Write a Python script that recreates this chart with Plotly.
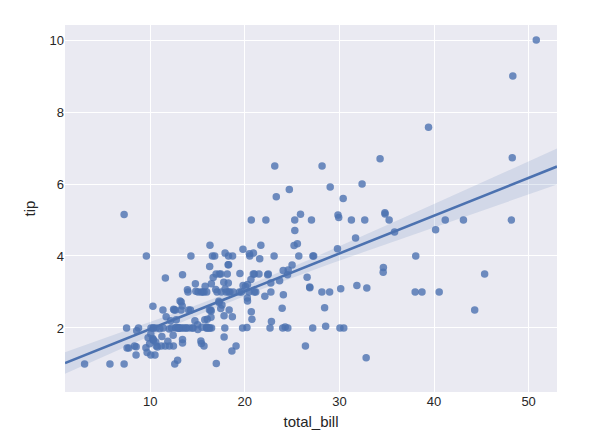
import numpy as np
import plotly.graph_objects as go

total_bill = [16.99,10.34,21.01,23.68,24.59,25.29,8.77,26.88,15.04,14.78,10.27,35.26,15.42,18.43,14.83,21.58,10.33,16.29,16.97,20.65,17.92,20.29,15.77,39.42,19.82,17.81,13.37,12.69,21.7,19.65,9.55,18.35,15.06,20.69,17.78,24.06,16.31,16.93,18.69,31.27,16.04,17.46,13.94,9.68,30.4,18.29,22.23,32.4,28.55,18.04,12.54,10.29,34.81,9.94,25.56,19.49,38.01,26.41,11.24,48.27,20.29,13.81,11.02,18.29,17.59,20.08,16.45,3.07,20.23,15.01,12.02,17.07,26.86,25.28,14.73,10.51,17.92,27.2,22.76,17.29,19.44,16.66,10.07,32.68,15.98,34.83,13.03,18.28,24.71,21.16,28.97,22.49,5.75,16.32,22.75,40.17,27.28,12.03,21.01,12.46,11.35,15.38,44.3,22.42,20.92,15.36,20.49,25.21,18.24,14.31,14.0,7.25,38.07,23.95,25.71,17.31,29.93,10.65,12.43,24.08,11.69,13.42,14.26,15.95,12.48,29.8,8.52,14.52,11.38,22.82,19.08,20.27,11.17,12.26,18.26,8.51,10.33,14.15,16.0,13.16,17.47,34.3,41.19,27.05,16.43,8.35,18.64,11.87,9.78,7.51,14.07,13.13,17.26,24.55,19.77,29.85,48.17,25.0,13.39,16.49,21.5,12.66,16.21,13.81,17.51,24.52,20.76,31.71,10.59,10.63,50.81,15.81,7.25,31.85,16.82,32.9,17.89,14.48,9.6,34.63,34.65,23.33,45.35,23.17,40.55,20.69,20.9,30.46,18.15,23.1,15.69,19.81,28.44,15.48,16.58,7.56,10.34,43.11,13.0,13.51,18.71,12.74,13.0,16.4,20.53,16.47,26.59,38.73,24.27,12.76,30.06,25.89,48.33,13.27,28.17,12.9,28.15,11.59,7.74,30.14,12.16,13.42,8.58,15.98,13.42,16.27,10.09,20.45,13.28,22.12,24.01,15.69,11.61,10.77,15.53,10.07,12.6,32.83,35.83,29.03,27.18,22.67,17.82,18.78]
tip = [1.01,1.66,3.5,3.31,3.61,4.71,2.0,3.12,1.96,3.23,1.71,5.0,1.57,3.0,3.02,3.92,1.67,3.71,3.5,3.35,4.08,2.75,2.23,7.58,3.18,2.34,2.0,2.0,4.3,3.0,1.45,2.5,3.0,2.45,3.27,3.6,2.0,3.07,2.31,5.0,2.24,2.54,3.06,1.32,5.6,3.0,5.0,6.0,2.05,3.0,2.5,2.6,5.2,1.56,4.34,3.51,3.0,1.5,1.76,6.73,3.21,2.0,1.98,3.76,2.64,3.15,2.47,1.0,2.01,2.09,1.97,3.0,3.14,5.0,2.2,1.25,3.08,4.0,3.0,2.71,3.0,3.4,1.83,5.0,2.03,5.17,2.0,4.0,5.85,3.0,3.0,3.5,1.0,4.3,3.25,4.73,4.0,1.5,3.0,1.5,2.5,3.0,2.5,3.48,4.08,1.64,4.06,4.29,3.76,4.0,3.0,1.0,4.0,2.55,4.0,3.5,5.07,1.5,1.8,2.92,2.31,1.68,2.5,2.0,2.52,4.2,1.48,2.0,2.0,2.18,1.5,2.83,1.5,2.0,3.25,1.25,2.0,2.0,2.0,2.75,3.5,6.7,5.0,5.0,2.3,1.5,1.36,1.63,1.73,2.0,2.5,2.0,2.74,2.0,2.0,5.14,5.0,3.75,2.61,2.0,3.5,2.5,2.0,2.0,3.0,3.48,2.24,4.5,1.61,2.0,10.0,3.16,5.15,3.18,4.0,3.11,2.0,2.0,4.0,3.55,3.68,5.65,3.5,6.5,3.0,5.0,3.5,2.0,3.5,4.0,1.5,4.19,2.56,2.02,4.0,1.44,2.0,5.0,2.0,2.0,4.0,2.01,2.0,2.5,4.0,3.23,3.41,3.0,2.03,2.23,2.0,5.16,9.0,2.5,6.5,1.1,3.0,1.5,1.44,3.09,2.2,3.48,1.92,3.0,1.58,2.5,2.0,3.0,2.72,2.88,2.0,3.0,3.39,1.47,3.0,1.25,1.0,1.17,4.67,5.92,2.0,2.0,1.75,3.0]
x_ticks = [10, 20, 30, 40, 50]
y_ticks = [2, 4, 6, 8, 10]

x = np.array(total_bill); y = np.array(tip)
n = len(x)
X = np.column_stack([np.ones(n), x])
beta, *_ = np.linalg.lstsq(X, y, rcond=None)
resid = y - X @ beta
s2 = resid @ resid / (n - 2)
XtXi = np.linalg.inv(X.T @ X)
xr = [1.0, 53.0]
xg = np.linspace(xr[0], xr[1], 100)
G = np.column_stack([np.ones_like(xg), xg])
yg = G @ beta
se = np.sqrt(s2 * np.einsum('ij,jk,ik->i', G, XtXi, G))
lo, hi = yg - 1.97 * se, yg + 1.97 * se

c = "#4C72B0"
fig = go.Figure()
fig.add_trace(go.Scatter(x=np.concatenate([xg, xg[::-1]]), y=np.concatenate([hi, lo[::-1]]),
                         fill="toself", fillcolor="rgba(76,114,176,0.15)", line=dict(width=0),
                         hoverinfo="skip", showlegend=False))
fig.add_trace(go.Scatter(x=total_bill, y=tip, mode="markers",
                         marker=dict(color=c, opacity=0.8, size=7.5, line=dict(width=0)), showlegend=False))
fig.add_trace(go.Scatter(x=xg, y=yg, mode="lines", line=dict(color=c, width=2.6), showlegend=False))

axis = dict(showline=False, zeroline=False, gridcolor="white", gridwidth=1.2, ticks="",
            tickfont=dict(size=13, color="#262626"), title_font=dict(size=15, color="#262626"))
fig.update_layout(
    width=590, height=444, margin=dict(l=57, r=41, t=17, b=60),
    paper_bgcolor="white", plot_bgcolor="#EAEAF2",
    font=dict(family="Liberation Sans, Arial, sans-serif", color="#262626"),
    xaxis=dict(axis, range=xr, tickvals=x_ticks, title=dict(text="total_bill", standoff=8)),
    yaxis=dict(axis, range=[0.22, 10.42], tickvals=y_ticks, title=dict(text="tip", standoff=10)),
)
fig.write_html("out.html")
